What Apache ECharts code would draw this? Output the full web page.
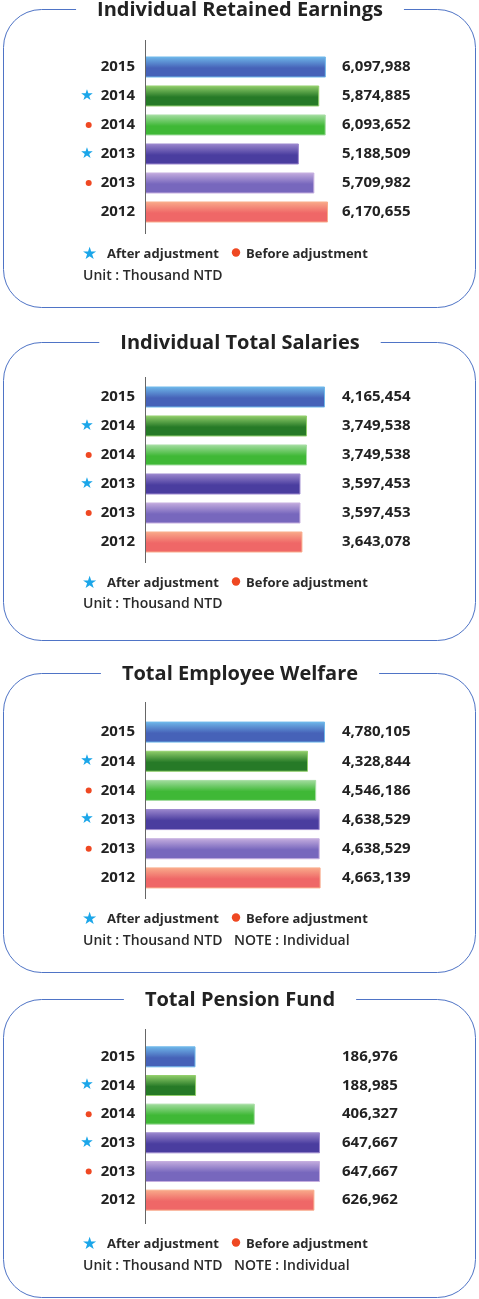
<!DOCTYPE html>
<html>
<head>
<meta charset="utf-8">
<script src="https://cdn.jsdelivr.net/npm/echarts@6/dist/echarts.min.js"></script>
<style>
  html, body { margin: 0; padding: 0; background: #fff; }
  #main { width: 479px; height: 1299px; }
</style>
</head>
<body>
<div id="main"></div>
<script>
var FONT = '"Open Sans", "Noto Sans", sans-serif';

// data
var titles = ['Individual Retained Earnings', 'Individual Total Salaries', 'Total Employee Welfare', 'Total Pension Fund'];
var years = ['2015', '2014', '2014', '2013', '2013', '2012'];
var marks = ['', 'star', 'dot', 'star', 'dot', ''];
var retainedEarnings = [6097988, 5874885, 6093652, 5188509, 5709982, 6170655];
var totalSalaries = [4165454, 3749538, 3749538, 3597453, 3597453, 3643078];
var employeeWelfare = [4780105, 4328844, 4546186, 4638529, 4638529, 4663139];
var pensionFund = [186976, 188985, 406327, 647667, 647667, 626962];
var seriesValues = [retainedEarnings, totalSalaries, employeeWelfare, pensionFund];
var axisMax = [6339000, 4350600, 4992600, 695800];
var unitText = 'Unit : Thousand NTD';
var noteText = ['', '', 'NOTE : Individual', 'NOTE : Individual'];

// bar gradients (top light -> bottom)
var barStops = [
  ['#6fb8ea', '#4662b8'],
  ['#93cf6c', '#267a27'],
  ['#a5dda2', '#3fb836'],
  ['#9c88ce', '#4a3d9f'],
  ['#c5aedf', '#7767bd'],
  ['#f9ac8b', '#ef6767']
];

// layout per panel
var boxTop = [9, 342, 673, 999];
var boxBottom = [307, 640, 972, 1297];
var gridTop = [52.5, 382.5, 717.5, 1042.5];
var gridHeight = [174, 174, 175, 172];
var axisTop = [40, 377, 702, 1029];
var axisBottom = [234, 563, 899, 1224];
var legendY = [254, 583, 919, 1244];
var unitY = [276, 604, 941, 1266];

var chart = echarts.init(document.getElementById('main'), null, { renderer: 'canvas' });

function fmt(v) {
  return v.toString().replace(/\B(?=(\d{3})+(?!\d))/g, ',');
}

var grids = [], xAxes = [], yAxes = [], series = [], graphics = [];

for (var i = 0; i < 4; i++) {
  grids.push({ left: 145, width: 188, top: gridTop[i], height: gridHeight[i] });
  xAxes.push({ type: 'value', gridIndex: i, min: 0, max: axisMax[i], show: false });
  yAxes.push({
    type: 'category', gridIndex: i, inverse: true, data: years,
    axisLine: { show: false }, axisTick: { show: false },
    axisLabel: {
      margin: 10,
      formatter: function (val, idx) {
        if (marks[idx] === 'star') return '{s|★}{g| }{y|' + val + '}';
        if (marks[idx] === 'dot') return '{d| }{h| }{y|' + val + '}';
        return '{y|' + val + '}';
      },
      rich: {
        y: { fontFamily: FONT, fontSize: 15, fontWeight: 'bold', color: '#222' },
        s: { fontFamily: 'DejaVu Sans', fontSize: 15, color: '#1ba6e9' },
        d: { width: 6, height: 6, borderRadius: 3, backgroundColor: '#ef4822', fontSize: 6 },
        g: { width: 7, fontSize: 6 },
        h: { width: 9, fontSize: 6 }
      }
    }
  });
  (function (vals) {
    yAxes.push({
      type: 'category', gridIndex: i, inverse: true, position: 'right', data: years,
      axisLine: { show: false }, axisTick: { show: false },
      axisLabel: {
        margin: 9,
        fontFamily: FONT, fontSize: 15, fontWeight: 'bold', color: '#222',
        formatter: function (val, idx) { return fmt(vals[idx]); }
      }
    });
  })(seriesValues[i]);

  series.push({
    type: 'bar', xAxisIndex: i, yAxisIndex: i * 2, barWidth: 21,
    silent: true,
    data: seriesValues[i].map(function (v, k) {
      return {
        value: v,
        itemStyle: {
          color: new echarts.graphic.LinearGradient(0, 0, 0, 1, [
            { offset: 0, color: barStops[k][0] },
            { offset: 0.55, color: barStops[k][1] },
            { offset: 1, color: barStops[k][1] }
          ]),
          borderColor: barStops[k][0],
          borderWidth: 1
        }
      };
    })
  });

  // panel frame
  graphics.push({
    type: 'rect', silent: true, z: 0,
    shape: { x: 3.5, y: boxTop[i] + 0.5, width: 472, height: boxBottom[i] - boxTop[i], r: 38 },
    style: { fill: 'none', stroke: '#4f74c6', lineWidth: 1 }
  });
  // title over frame
  graphics.push({
    type: 'text', silent: true, z: 10, x: 240, y: boxTop[i] + 1,
    style: {
      text: titles[i], fill: '#222', font: 'bold 20px ' + FONT,
      align: 'center', verticalAlign: 'middle',
      backgroundColor: '#fff', padding: [2, 21]
    }
  });
  // axis line
  graphics.push({
    type: 'line', silent: true, z: 5,
    shape: { x1: 145.5, y1: axisTop[i], x2: 145.5, y2: axisBottom[i] },
    style: { stroke: '#666', lineWidth: 1 }
  });
  // legend
  graphics.push({
    type: 'text', silent: true, x: 89.5, y: legendY[i] + 1,
    style: { text: '★', fill: '#1ba6e9', font: '17px "DejaVu Sans"', align: 'center', verticalAlign: 'middle' }
  });
  graphics.push({
    type: 'text', silent: true, x: 107, y: legendY[i],
    style: { text: 'After adjustment', fill: '#2a2a2a', font: 'bold 13px ' + FONT, verticalAlign: 'middle' }
  });
  graphics.push({
    type: 'circle', silent: true,
    shape: { cx: 236, cy: legendY[i] - 1.5, r: 4.2 },
    style: { fill: '#ef4822' }
  });
  graphics.push({
    type: 'text', silent: true, x: 246, y: legendY[i],
    style: { text: 'Before adjustment', fill: '#2a2a2a', font: 'bold 13px ' + FONT, verticalAlign: 'middle' }
  });
  graphics.push({
    type: 'text', silent: true, x: 83, y: unitY[i],
    style: { text: unitText, fill: '#2a2a2a', font: '600 14px ' + FONT, verticalAlign: 'middle' }
  });
  if (noteText[i]) {
    graphics.push({
      type: 'text', silent: true, x: 234, y: unitY[i],
      style: { text: noteText[i], fill: '#2a2a2a', font: '600 14px ' + FONT, verticalAlign: 'middle' }
    });
  }
}

chart.setOption({
  animation: false,
  backgroundColor: '#fff',
  grid: grids,
  xAxis: xAxes,
  yAxis: yAxes,
  series: series,
  graphic: { elements: graphics }
});
</script>
</body>
</html>
